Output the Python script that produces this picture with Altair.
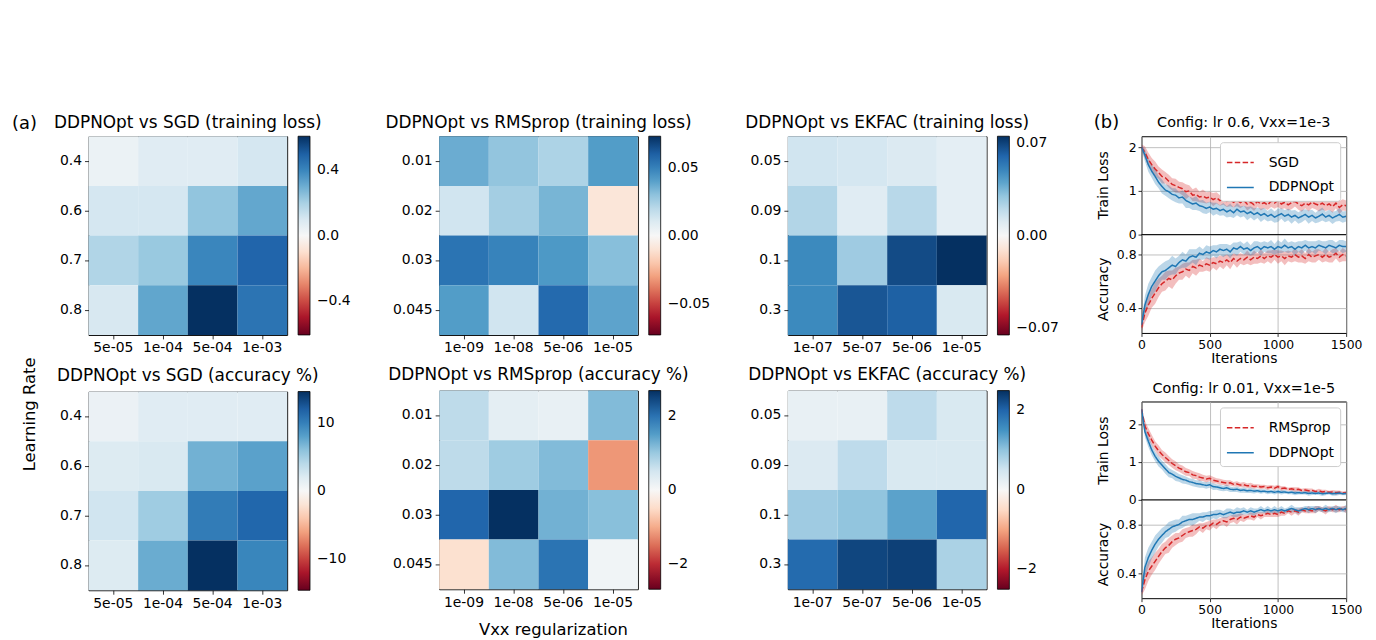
import altair as alt
import pandas as pd

FONT = "DejaVu Sans"
RED = "#d62728"
BLUE = "#1f77b4"
GRID = "#b0b0b0"
RDBU = ["#67001f", "#b2182b", "#d6604d", "#f4a582", "#fddbc7", "#f7f7f7",
        "#d1e5f0", "#92c5de", "#4393c3", "#2166ac", "#053061"]

# ---------------- heatmap data ----------------
SGD_LR = ["0.4", "0.6", "0.7", "0.8"]
SGD_VXX = ["5e-05", "1e-04", "5e-04", "1e-03"]
SGD_LOSS = [[0.037, 0.073, 0.073, 0.11],
            [0.11, 0.11, 0.244, 0.317],
            [0.183, 0.23, 0.40, 0.49],
            [0.10, 0.32, 0.61, 0.45]]
SGD_ACC = [[0.9, 1.75, 1.75, 1.75],
           [2.0, 2.3, 7.0, 7.9],
           [2.9, 5.2, 10.2, 11.6],
           [2.0, 7.3, 14.55, 9.6]]

RMS_LR = ["0.01", "0.02", "0.03", "0.045"]
RMS_VXX = ["1e-09", "1e-08", "5e-06", "1e-05"]
RMS_LOSS = [[0.0365, 0.029, 0.023, 0.041],
            [0.0146, 0.025, 0.034, -0.009],
            [0.054, 0.049, 0.042, 0.031],
            [0.041, 0.0146, 0.057, 0.039]]
RMS_ACC = [[0.7, 0.27, 0.21, 1.18],
           [0.7, 0.96, 1.18, -1.18],
           [2.14, 2.68, 1.29, 1.13],
           [-0.43, 1.18, 1.98, 0.1]]

EK_LR = ["0.05", "0.09", "0.1", "0.3"]
EK_VXX = ["1e-07", "5e-07", "5e-06", "1e-05"]
EK_LOSS = [[0.015, 0.0135, 0.0105, 0.0075],
           [0.0225, 0.009, 0.021, 0.0075],
           [0.048, 0.027, 0.0675, 0.075],
           [0.048, 0.0645, 0.0615, 0.012]]
EK_ACC = [[0.2, 0.2, 0.65, 0.4],
          [0.35, 0.65, 0.4, 0.4],
          [0.9, 1.0, 1.35, 2.0],
          [1.95, 2.3, 2.35, 0.8]]

# ---------------- training curves (every 25 iterations) ----------------
ITERS = list(range(0, 1501, 25))

TOP_NAMES = ["SGD", "DDPNOpt"]
TOP_LOSS_SGD = [2.00, 1.88, 1.72, 1.60, 1.50, 1.42, 1.33, 1.30, 1.22, 1.15,
                1.12, 1.08, 1.05, 0.98, 1.00, 0.90, 0.92, 0.86, 0.88, 0.84,
                0.86, 0.80, 0.84, 0.78, 0.82, 0.76, 0.80, 0.74, 0.79, 0.73,
                0.78, 0.70, 0.74, 0.68, 0.76, 0.70, 0.73, 0.68, 0.77, 0.72,
                0.78, 0.70, 0.74, 0.68, 0.73, 0.76, 0.70, 0.66, 0.72, 0.68,
                0.74, 0.70, 0.67, 0.72, 0.66, 0.70, 0.64, 0.72, 0.62, 0.68, 0.66]
TOP_LOSS_DDP = [2.00, 1.82, 1.60, 1.45, 1.33, 1.20, 1.10, 1.02, 0.98, 0.92,
                0.90, 0.84, 0.86, 0.78, 0.74, 0.70, 0.72, 0.66, 0.64, 0.60,
                0.63, 0.58, 0.60, 0.55, 0.58, 0.52, 0.56, 0.50, 0.58, 0.52,
                0.54, 0.48, 0.52, 0.46, 0.50, 0.44, 0.48, 0.42, 0.46, 0.40,
                0.44, 0.48, 0.42, 0.46, 0.40, 0.44, 0.38, 0.42, 0.46, 0.40,
                0.44, 0.38, 0.42, 0.47, 0.40, 0.44, 0.38, 0.42, 0.46, 0.40, 0.42]
TOP_LOSS_HW = [0.06, 0.14, 0.16, 0.15, 0.17, 0.14, 0.16, 0.13, 0.15, 0.14,
               0.16, 0.13, 0.15, 0.17, 0.13, 0.14, 0.16, 0.12, 0.15, 0.13,
               0.12, 0.15, 0.13, 0.12, 0.14, 0.13, 0.15, 0.12, 0.14, 0.13,
               0.12, 0.15, 0.13, 0.14, 0.12, 0.15, 0.13, 0.12, 0.14, 0.13,
               0.15, 0.12, 0.14, 0.13, 0.15, 0.12, 0.13, 0.14, 0.12, 0.15,
               0.13, 0.12, 0.14, 0.15, 0.12, 0.13, 0.14, 0.12, 0.15, 0.13, 0.12]
TOP_ACC_SGD = [0.25, 0.36, 0.42, 0.47, 0.51, 0.55, 0.58, 0.60, 0.62, 0.61,
               0.64, 0.66, 0.67, 0.69, 0.68, 0.71, 0.70, 0.72, 0.71, 0.73,
               0.72, 0.74, 0.73, 0.75, 0.74, 0.76, 0.74, 0.77, 0.75, 0.77,
               0.76, 0.78, 0.76, 0.78, 0.77, 0.79, 0.77, 0.79, 0.78, 0.80,
               0.78, 0.79, 0.77, 0.79, 0.78, 0.80, 0.78, 0.79, 0.77, 0.80,
               0.78, 0.79, 0.80, 0.78, 0.80, 0.78, 0.79, 0.81, 0.78, 0.80, 0.79]
TOP_ACC_DDP = [0.27, 0.42, 0.50, 0.56, 0.60, 0.64, 0.67, 0.68, 0.70, 0.72,
               0.71, 0.74, 0.76, 0.75, 0.78, 0.79, 0.78, 0.81, 0.80, 0.82,
               0.81, 0.83, 0.82, 0.84, 0.83, 0.84, 0.82, 0.85, 0.84, 0.86,
               0.84, 0.85, 0.83, 0.85, 0.86, 0.84, 0.86, 0.85, 0.86, 0.84,
               0.86, 0.85, 0.87, 0.85, 0.86, 0.84, 0.86, 0.85, 0.87, 0.85,
               0.86, 0.85, 0.87, 0.86, 0.85, 0.87, 0.86, 0.85, 0.87, 0.86, 0.86]
TOP_ACC_HW = [0.03, 0.07, 0.08, 0.07, 0.08, 0.07, 0.06, 0.07, 0.06, 0.07,
              0.06, 0.05, 0.06, 0.05, 0.06, 0.05, 0.06, 0.05, 0.04, 0.05,
              0.05, 0.04, 0.05, 0.04, 0.05, 0.04, 0.05, 0.04, 0.05, 0.04,
              0.04, 0.05, 0.04, 0.05, 0.04, 0.05, 0.04, 0.04, 0.05, 0.04,
              0.05, 0.04, 0.05, 0.04, 0.04, 0.05, 0.04, 0.05, 0.04, 0.05,
              0.04, 0.05, 0.04, 0.04, 0.05, 0.04, 0.05, 0.04, 0.04, 0.05, 0.04]

BOT_NAMES = ["RMSprop", "DDPNOpt"]
BOT_LOSS_RMS = [2.40, 1.95, 1.75, 1.58, 1.42, 1.30, 1.20, 1.12, 1.04, 0.96,
                0.90, 0.84, 0.80, 0.74, 0.72, 0.66, 0.64, 0.60, 0.58, 0.55,
                0.57, 0.52, 0.50, 0.48, 0.46, 0.44, 0.45, 0.41, 0.42, 0.39,
                0.40, 0.37, 0.38, 0.35, 0.36, 0.34, 0.35, 0.32, 0.34, 0.31,
                0.35, 0.30, 0.31, 0.28, 0.29, 0.27, 0.28, 0.25, 0.26, 0.24,
                0.25, 0.22, 0.24, 0.21, 0.22, 0.20, 0.21, 0.19, 0.20, 0.18, 0.19]
BOT_LOSS_DDP = [2.40, 1.80, 1.55, 1.32, 1.15, 1.02, 0.92, 0.82, 0.72, 0.68,
                0.62, 0.58, 0.54, 0.52, 0.48, 0.46, 0.43, 0.42, 0.40, 0.38,
                0.40, 0.35, 0.34, 0.32, 0.30, 0.32, 0.28, 0.27, 0.28, 0.25,
                0.26, 0.24, 0.25, 0.23, 0.24, 0.22, 0.23, 0.21, 0.22, 0.20,
                0.22, 0.20, 0.21, 0.19, 0.20, 0.18, 0.19, 0.18, 0.19, 0.17,
                0.18, 0.17, 0.18, 0.16, 0.17, 0.18, 0.16, 0.17, 0.18, 0.16, 0.17]
BOT_LOSS_HW = [0.05, 0.14, 0.15, 0.14, 0.13, 0.14, 0.12, 0.13, 0.12, 0.11,
               0.12, 0.10, 0.11, 0.10, 0.09, 0.10, 0.09, 0.10, 0.08, 0.09,
               0.08, 0.09, 0.07, 0.08, 0.07, 0.08, 0.07, 0.06, 0.07, 0.06,
               0.07, 0.06, 0.07, 0.06, 0.05, 0.06, 0.05, 0.06, 0.05, 0.06,
               0.05, 0.06, 0.05, 0.04, 0.05, 0.06, 0.05, 0.04, 0.05, 0.06,
               0.05, 0.04, 0.05, 0.06, 0.05, 0.04, 0.05, 0.06, 0.05, 0.04, 0.05]
BOT_ACC_RMS = [0.25, 0.35, 0.42, 0.46, 0.50, 0.54, 0.58, 0.61, 0.63, 0.66,
               0.68, 0.69, 0.71, 0.73, 0.74, 0.75, 0.76, 0.78, 0.77, 0.79,
               0.79, 0.81, 0.80, 0.82, 0.83, 0.82, 0.84, 0.85, 0.84, 0.86,
               0.85, 0.86, 0.87, 0.86, 0.88, 0.87, 0.88, 0.89, 0.88, 0.89,
               0.88, 0.90, 0.89, 0.91, 0.90, 0.91, 0.90, 0.92, 0.91, 0.92,
               0.91, 0.92, 0.93, 0.92, 0.91, 0.93, 0.92, 0.93, 0.92, 0.93, 0.92]
BOT_ACC_DDP = [0.25, 0.45, 0.53, 0.59, 0.64, 0.68, 0.71, 0.74, 0.76, 0.78,
               0.79, 0.80, 0.82, 0.83, 0.84, 0.84, 0.85, 0.86, 0.86, 0.87,
               0.87, 0.88, 0.88, 0.89, 0.88, 0.89, 0.90, 0.89, 0.90, 0.90,
               0.91, 0.90, 0.91, 0.90, 0.91, 0.92, 0.91, 0.92, 0.91, 0.92,
               0.91, 0.92, 0.91, 0.92, 0.93, 0.92, 0.91, 0.92, 0.93, 0.92,
               0.93, 0.92, 0.93, 0.92, 0.93, 0.92, 0.93, 0.92, 0.93, 0.92, 0.93]
BOT_ACC_HW = [0.03, 0.08, 0.08, 0.07, 0.07, 0.06, 0.06, 0.05, 0.06, 0.05,
              0.05, 0.04, 0.05, 0.04, 0.04, 0.05, 0.04, 0.03, 0.04, 0.03,
              0.04, 0.03, 0.04, 0.03, 0.03, 0.04, 0.03, 0.03, 0.04, 0.03,
              0.03, 0.02, 0.03, 0.03, 0.02, 0.03, 0.02, 0.03, 0.02, 0.03,
              0.02, 0.03, 0.02, 0.02, 0.03, 0.02, 0.03, 0.02, 0.02, 0.03,
              0.02, 0.03, 0.02, 0.02, 0.03, 0.02, 0.02, 0.03, 0.02, 0.02, 0.03]


def indep(c):
    return c.resolve_scale(color="independent", strokeDash="independent",
                           x="independent", y="independent").resolve_legend(
        color="independent", strokeDash="independent")


def label(text, x, y, size, angle=0, align="left", opacity=1.0):
    return alt.Chart(pd.DataFrame({"t": [text]})).mark_text(
        font=FONT, fontSize=size, align=align, baseline="middle",
        angle=angle, opacity=opacity, color="black"
    ).encode(x=alt.value(x), y=alt.value(y), text="t:N")


def heatmap(title, title_y, rows, cols, vals, dom, ticks, fmt, extras):
    df = pd.DataFrame({
        "lr": [r for r in rows for _ in cols],
        "vxx": [c for _ in rows for c in cols],
        "v": [v for row in vals for v in row],
    })
    stops = [-dom + 2 * dom * i / 10 for i in range(11)]
    rect = alt.Chart(df).mark_rect().encode(
        x=alt.X("vxx:N", sort=cols,
                scale=alt.Scale(paddingInner=0, paddingOuter=0),
                axis=alt.Axis(title=None, labelAngle=0, labelFontSize=14,
                              tickSize=4, tickWidth=0.8, labelPadding=2)),
        y=alt.Y("lr:N", sort=rows,
                scale=alt.Scale(paddingInner=0, paddingOuter=0),
                axis=alt.Axis(title=None, labelFontSize=14, tickSize=4,
                              tickWidth=0.8, labelPadding=3)),
        color=alt.Color("v:Q",
                        scale=alt.Scale(domain=stops, range=RDBU, interpolate="rgb"),
                        legend=alt.Legend(title=None, orient="right", offset=11,
                                          padding=0, direction="vertical",
                                          gradientLength=200, gradientThickness=12,
                                          gradientStrokeColor="black",
                                          gradientStrokeWidth=0.8,
                                          labelFontSize=14, labelOffset=7,
                                          values=ticks, format=fmt)),
    )
    head = label(title, 100, title_y, 17, align="center")
    return alt.layer(rect, head, *extras).properties(width=200, height=200)


def line_panel(title, title_y, names, loss_a, loss_b, loss_hw, acc_a, acc_b,
               acc_hw, loss_top, acc_dom, show_b):
    n = len(ITERS)
    a0, a1 = acc_dom
    df = pd.DataFrame({
        "it": ITERS + ITERS,
        "series": [names[0]] * n + [names[1]] * n,
        "loss": loss_a + loss_b,
        "lhw": loss_hw + loss_hw,
        "acc": acc_a + acc_b,
        "ahw": acc_hw + acc_hw,
    })
    # upper half of the panel = training loss, lower half = accuracy
    base = alt.Chart(df).transform_calculate(
        ly=f"1 + datum.loss / {loss_top}",
        ly_lo=f"1 + (datum.loss - datum.lhw) / {loss_top}",
        ly_hi=f"1 + (datum.loss + datum.lhw) / {loss_top}",
        ay=f"(datum.acc - {a0}) / {a1 - a0}",
        ay_lo=f"(datum.acc - datum.ahw - {a0}) / {a1 - a0}",
        ay_hi=f"(datum.acc + datum.ahw - {a0}) / {a1 - a0}",
    )
    tick_vals = [(0.4 - a0) / (a1 - a0), (0.8 - a0) / (a1 - a0),
                 1.0, 1.0 + 1.0 / loss_top, 1.0 + 2.0 / loss_top]
    label_expr = (f"datum.value < 0.999 ? format(datum.value * {a1 - a0} + {a0}, '.1f')"
                  f" : format((datum.value - 1) * {loss_top}, '.0f')")
    ys = alt.Scale(domain=[0, 2], nice=False, zero=False)
    yax = alt.Axis(values=tick_vals, labelExpr=label_expr, title=None,
                   labelFontSize=12.5, tickSize=3.5, tickWidth=0.8,
                   labelPadding=2, grid=True, gridColor=GRID, gridWidth=0.8)
    xs = alt.Scale(domain=[0, 1500], nice=False, zero=False)
    xax = alt.Axis(values=[0, 500, 1000, 1500], format="d", title="Iterations",
                   titleFontSize=14, titlePadding=1, labelFontSize=12.5,
                   labelFlush=False, tickSize=3.5, tickWidth=0.8,
                   labelPadding=2, grid=True, gridColor=GRID, gridWidth=0.8)
    x = alt.X("it:Q", scale=xs, axis=xax)
    col_scale = alt.Scale(domain=names, range=[RED, BLUE])
    dash_scale = alt.Scale(domain=names, range=[[5.5, 2.4], [1, 0]])
    leg = alt.Legend(title=None, orient="top-right", offset=6,
                     symbolType="stroke", symbolSize=729, symbolStrokeWidth=1.5,
                     labelFontSize=14, labelOffset=14, fillColor="white",
                     strokeColor="#cccccc", padding=6, cornerRadius=3,
                     rowPadding=3)

    layers = []
    for name, colr in zip(names, [RED, BLUE]):
        sub = base.transform_filter(alt.datum.series == name)
        layers.append(sub.mark_area(color=colr, opacity=0.3, clip=True).encode(
            x=x, y=alt.Y("ly_lo:Q", scale=ys, axis=yax), y2="ly_hi:Q"))
        layers.append(sub.mark_area(color=colr, opacity=0.3, clip=True).encode(
            x=x, y=alt.Y("ay_lo:Q", scale=ys, axis=yax), y2="ay_hi:Q"))
    for fld in ["ly", "ay"]:
        layers.append(base.mark_line(strokeWidth=1.5, clip=True).encode(
            x=x, y=alt.Y(f"{fld}:Q", scale=ys, axis=yax),
            color=alt.Color("series:N", scale=col_scale, legend=leg),
            strokeDash=alt.StrokeDash("series:N", scale=dash_scale, legend=leg)))
    layers.append(alt.Chart(pd.DataFrame({"split": [1.0]})).mark_rule(
        color="black", strokeWidth=1).encode(y=alt.Y("split:Q", scale=ys, axis=yax)))
    layers.append(label(title, 103, title_y, 14.5, align="center"))
    layers.append(label("Train Loss", -38, 49.5, 14, angle=270, align="center"))
    layers.append(label("Accuracy", -38, 154, 14, angle=270, align="center"))
    if show_b:
        layers.append(label("(b)", -48, -13.5, 18))
    else:
        layers.append(label("(b)", -48, 100, 18, opacity=0.0))
    return alt.layer(*layers).properties(width=206, height=198)


# ---------------- panels ----------------
hm1 = heatmap("DDPNOpt vs SGD (training loss)", -13.5, SGD_LR, SGD_VXX, SGD_LOSS,
              0.61, [-0.4, 0.0, 0.4], ".1f", [label("(a)", -77, -12.5, 18)])
hm4 = heatmap("DDPNOpt vs SGD (accuracy %)", -15.5, SGD_LR, SGD_VXX, SGD_ACC,
              14.55, [-10, 0, 10], "d",
              [label("(a)", -77, 100, 18, opacity=0.0),
               label("Learning Rate", -59, 23, 16.5, angle=270, align="center")])
hm2 = heatmap("DDPNOpt vs RMSprop (training loss)", -13.5, RMS_LR, RMS_VXX, RMS_LOSS,
              0.073, [-0.05, 0.0, 0.05], ".2f",
              [label("(a)", -50, 100, 18, opacity=0.0)])
hm5 = heatmap("DDPNOpt vs RMSprop (accuracy %)", -15.5, RMS_LR, RMS_VXX, RMS_ACC,
              2.68, [-2, 0, 2], "d",
              [label("(a)", -50, 100, 18, opacity=0.0),
               label("Vxx regularization", 115, 241, 16.5, align="center")])
hm3 = heatmap("DDPNOpt vs EKFAC (training loss)", -13.5, EK_LR, EK_VXX, EK_LOSS,
              0.075, [-0.07, 0.0, 0.07], ".2f",
              [label("(a)", -37, 100, 18, opacity=0.0)])
hm6 = heatmap("DDPNOpt vs EKFAC (accuracy %)", -15.5, EK_LR, EK_VXX, EK_ACC,
              2.5, [-2, 0, 2], "d", [label("(a)", -37, 100, 18, opacity=0.0)])

lp_top = line_panel("Config: lr 0.6, Vxx=1e-3", -13, TOP_NAMES, TOP_LOSS_SGD,
                    TOP_LOSS_DDP, TOP_LOSS_HW, TOP_ACC_SGD, TOP_ACC_DDP,
                    TOP_ACC_HW, 2.25, [0.21, 0.95], True)
lp_bot = line_panel("Config: lr 0.01, Vxx=1e-5", -12.5, BOT_NAMES, BOT_LOSS_RMS,
                    BOT_LOSS_DDP, BOT_LOSS_HW, BOT_ACC_RMS, BOT_ACC_DDP,
                    BOT_ACC_HW, 2.6, [0.2, 1.0], False)

col1 = indep(alt.vconcat(hm1, hm4, spacing=1))
col2 = indep(alt.vconcat(hm2, hm5, spacing=10))
col3 = indep(alt.vconcat(hm3, hm6, spacing=10))
col4 = indep(alt.vconcat(lp_top, lp_bot, spacing=14))

chart = indep(alt.hconcat(col1, col2, col3, col4, spacing=33)).properties(
    padding={"left": 3, "top": 104, "right": 5, "bottom": 0}
).configure(font=FONT).configure_view(
    stroke="black", strokeWidth=1
).configure_axis(
    labelFont=FONT, titleFont=FONT, labelColor="black", titleColor="black",
    tickColor="black", domain=False, titleFontWeight="normal"
).configure_legend(
    labelFont=FONT, labelColor="black"
)

chart.save("out.html", embed_options={"renderer": "svg", "actions": False})
